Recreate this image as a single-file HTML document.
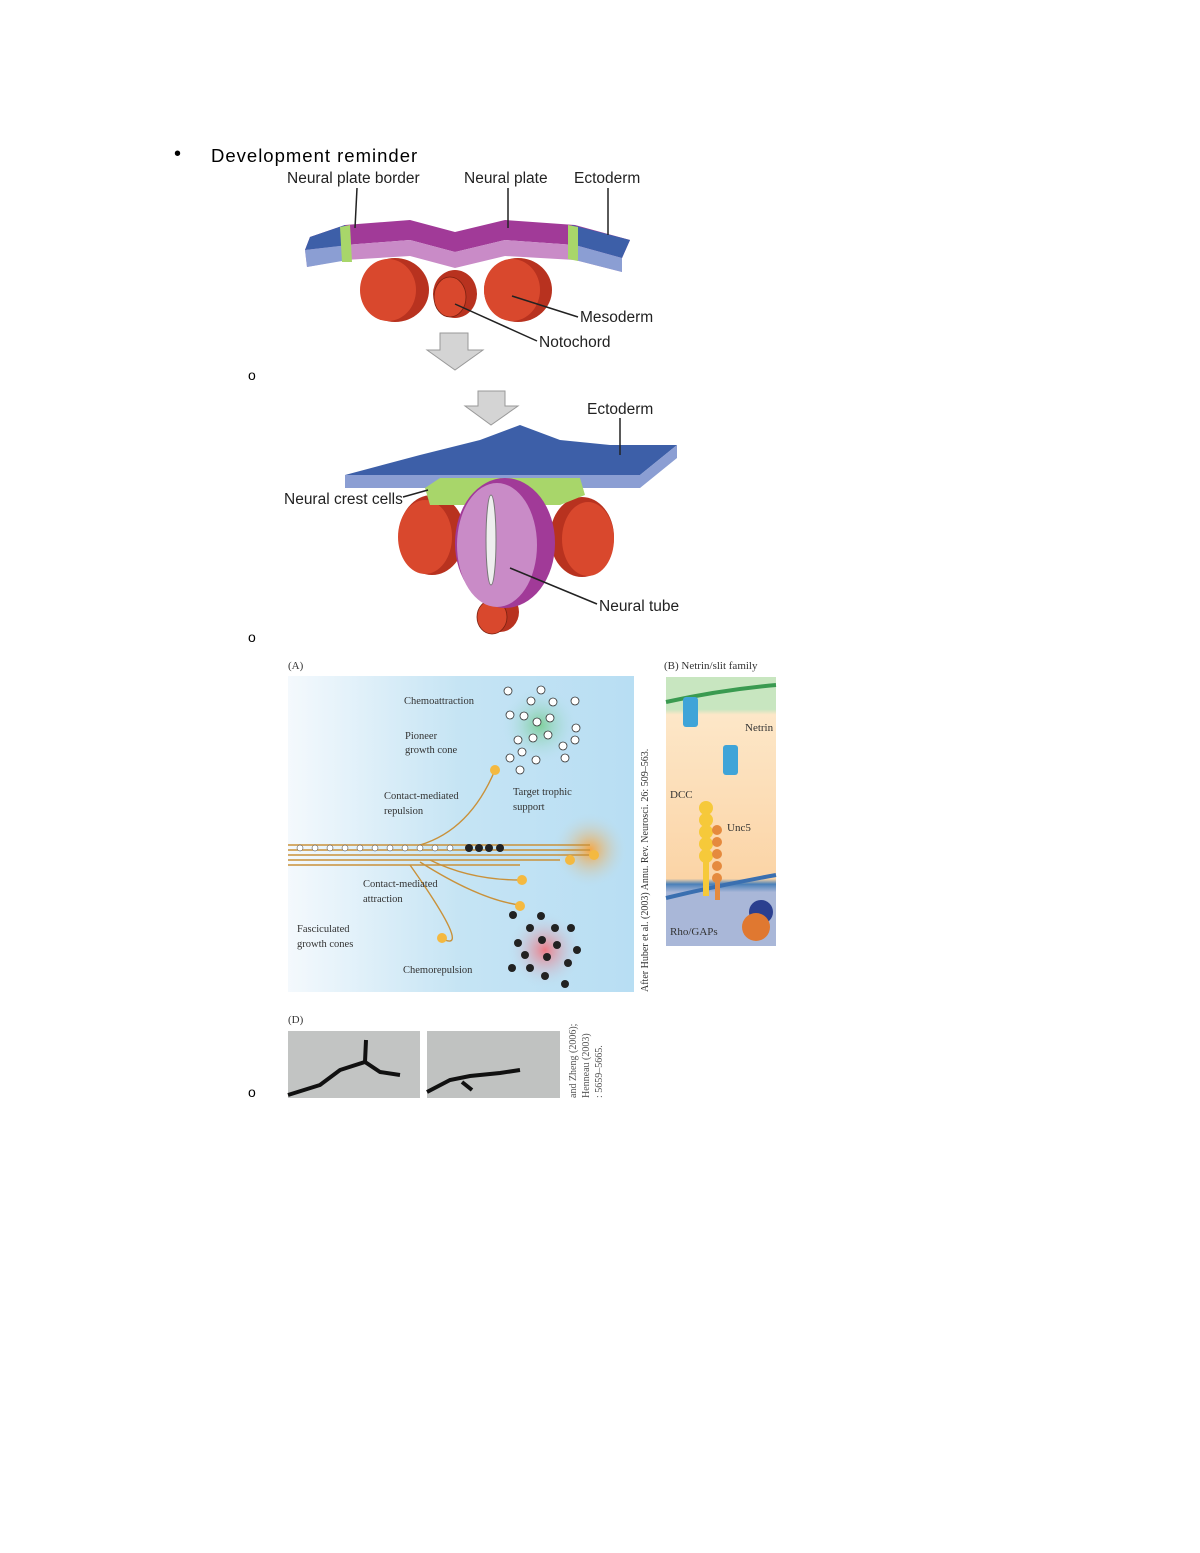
<!DOCTYPE html>
<html><head><meta charset="utf-8"><style>
body{margin:0;background:#fff;width:1200px;height:1553px;position:relative;overflow:hidden;font-family:"Liberation Sans",sans-serif}
.t{position:absolute;white-space:nowrap}
</style></head><body>
<div class="t" style="left:174px;top:143px;font-size:20px">•</div>
<div class="t" style="left:211px;top:145px;font-size:18.5px;letter-spacing:1px">Development reminder</div>
<div class="t" style="left:248px;top:367px;font-size:14px">o</div>
<div class="t" style="left:248px;top:629px;font-size:14px">o</div>
<div class="t" style="left:248px;top:1084px;font-size:14px">o</div>

<svg width="1200" height="1553" style="position:absolute;left:0;top:0" font-family="Liberation Sans, sans-serif">
<g font-size="15.5" fill="#222">
<text x="287" y="183">Neural plate border</text>
<text x="464" y="183">Neural plate</text>
<text x="574" y="183">Ectoderm</text>
<text x="580" y="322">Mesoderm</text>
<text x="539" y="347">Notochord</text>
</g>
<ellipse cx="395" cy="290" rx="34" ry="32" fill="#b8321f"/>
<ellipse cx="388" cy="290" rx="28" ry="31" fill="#d9482d"/>
<ellipse cx="518" cy="290" rx="34" ry="32" fill="#b8321f"/>
<ellipse cx="512" cy="290" rx="28" ry="31" fill="#d9482d"/>
<ellipse cx="455" cy="294" rx="22" ry="24" fill="#b8321f"/>
<ellipse cx="450" cy="297" rx="16" ry="20" fill="#d9482d" stroke="#7a2010" stroke-width="0.8"/>
<path d="M305 250 L310 237 L345 225 L410 220 L455 232 L505 220 L575 225 L630 240 L622 258 L575 245 L505 240 L455 252 L410 240 L345 245 Z" fill="#a13a98"/>
<path d="M305 250 L345 245 L410 240 L455 252 L505 240 L575 245 L622 258 L622 272 L575 260 L505 256 L455 268 L410 256 L345 260 L307 267 Z" fill="#c98bc7"/>
<path d="M305 250 L310 237 L345 225 L350 245 Z" fill="#3d5fa8"/><path d="M307 267 L305 250 L348 245 L348 260 Z" fill="#8b9ed3"/>
<path d="M572 225 L630 240 L622 258 L575 245 Z" fill="#3d5fa8"/><path d="M575 245 L622 258 L622 272 L575 260 Z" fill="#8b9ed3"/>
<path d="M340 227 L350 225 L352 262 L342 262 Z" fill="#a8d66a"/>
<path d="M568 225 L578 227 L578 261 L568 259 Z" fill="#a8d66a"/>
<g stroke="#222" stroke-width="1.5">
<line x1="357" y1="188" x2="355" y2="228"/><line x1="508" y1="188" x2="508" y2="228"/><line x1="608" y1="188" x2="608" y2="235"/>
<line x1="512" y1="296" x2="578" y2="317"/><line x1="455" y1="304" x2="537" y2="341"/>
</g>
<path d="M440 333 H468 V350 H483 L455 370 L427 350 H440 Z" fill="#d4d4d4" stroke="#999"/>
<path d="M478 391 H505 V406 H518 L491 425 L465 406 H478 Z" fill="#d4d4d4" stroke="#999"/>
<g font-size="15.5" fill="#222">
<text x="587" y="414">Ectoderm</text>
<text x="284" y="504">Neural crest cells</text>
<text x="599" y="611">Neural tube</text>
</g>
<ellipse cx="432" cy="535" rx="33" ry="40" fill="#b8321f"/><ellipse cx="425" cy="537" rx="27" ry="37" fill="#d9482d"/>
<ellipse cx="582" cy="537" rx="32" ry="40" fill="#b8321f"/><ellipse cx="588" cy="539" rx="26" ry="37" fill="#d9482d"/>
<ellipse cx="500" cy="612" rx="19" ry="20" fill="#b8321f"/><ellipse cx="492" cy="617" rx="15" ry="17" fill="#d9482d" stroke="#7a2010" stroke-width="0.8"/>
<path d="M345 475 L420 455 L480 440 L520 425 L560 440 L610 445 L677 445 L640 475 Z" fill="#3d5fa8"/>
<path d="M345 475 L640 475 L677 445 L677 458 L640 488 L345 488 Z" fill="#8b9ed3"/>
<path d="M425 488 L440 478 L580 478 L585 495 L560 505 L430 505 Z" fill="#a8d66a"/>
<ellipse cx="505" cy="543" rx="50" ry="65" fill="#a13a98"/>
<ellipse cx="497" cy="545" rx="40" ry="62" fill="#c98bc7"/>
<ellipse cx="491" cy="540" rx="5" ry="45" fill="#eee" stroke="#777"/>
<g stroke="#222" stroke-width="1.5">
<line x1="620" y1="418" x2="620" y2="455"/><line x1="403" y1="497" x2="428" y2="490"/><line x1="510" y1="568" x2="597" y2="604"/>
</g>
<defs><linearGradient id="ga" x1="0" x2="1"><stop offset="0" stop-color="#f4f9fd"/><stop offset="0.5" stop-color="#c5e4f4"/><stop offset="1" stop-color="#b8def3"/></linearGradient>
<radialGradient id="gg"><stop offset="0" stop-color="#7fcf9a"/><stop offset="1" stop-color="#b8def3" stop-opacity="0"/></radialGradient>
<radialGradient id="go"><stop offset="0" stop-color="#f7a640"/><stop offset="1" stop-color="#b8def3" stop-opacity="0"/></radialGradient>
<radialGradient id="gr"><stop offset="0" stop-color="#ee7b86"/><stop offset="1" stop-color="#b8def3" stop-opacity="0"/></radialGradient>
<linearGradient id="gb" x1="0" y1="0" x2="0" y2="1"><stop offset="0" stop-color="#c8e6c0"/><stop offset="0.12" stop-color="#c8e6c0"/><stop offset="0.14" stop-color="#fde7c8"/><stop offset="0.75" stop-color="#fbd4a6"/><stop offset="0.77" stop-color="#4a80b8"/><stop offset="0.8" stop-color="#a9b7d8"/><stop offset="1" stop-color="#a9b7d8"/></linearGradient></defs>
<text x="288" y="669" font-size="11" font-family="Liberation Serif,serif" fill="#333">(A)</text>
<rect x="288" y="676" width="346" height="316" fill="url(#ga)"/>
<circle cx="540" cy="725" r="38" fill="url(#gg)"/>
<circle cx="590" cy="850" r="38" fill="url(#go)"/>
<circle cx="545" cy="950" r="38" fill="url(#gr)"/>
<g stroke="#c9913a" stroke-width="1.4" fill="none">
<path d="M288 845 H590"/><path d="M288 850 H590"/><path d="M288 855 H590"/><path d="M288 860 H560"/><path d="M288 865 H520"/>
<path d="M420 845 Q470 830 495 770"/><path d="M430 860 Q470 880 520 880"/><path d="M420 862 Q480 900 520 905"/><path d="M410 865 Q470 950 445 940"/>
</g>
<g font-family="Liberation Serif,serif" font-size="10.5" fill="#333">
<text x="404" y="704">Chemoattraction</text><text x="405" y="739">Pioneer</text><text x="405" y="753">growth cone</text>
<text x="384" y="799">Contact-mediated</text><text x="384" y="814">repulsion</text>
<text x="513" y="795">Target trophic</text><text x="513" y="810">support</text>
<text x="363" y="887">Contact-mediated</text><text x="363" y="902">attraction</text>
<text x="297" y="932">Fasciculated</text><text x="297" y="947">growth cones</text>
<text x="403" y="973">Chemorepulsion</text>
</g>
<g fill="#fff" stroke="#333" stroke-width="0.8">
<circle cx="508" cy="691" r="4"/><circle cx="541" cy="690" r="4"/><circle cx="531" cy="701" r="4"/><circle cx="553" cy="702" r="4"/><circle cx="575" cy="701" r="4"/>
<circle cx="510" cy="715" r="4"/><circle cx="524" cy="716" r="4"/><circle cx="537" cy="722" r="4"/><circle cx="550" cy="718" r="4"/><circle cx="576" cy="728" r="4"/>
<circle cx="518" cy="740" r="4"/><circle cx="533" cy="738" r="4"/><circle cx="548" cy="735" r="4"/><circle cx="563" cy="746" r="4"/><circle cx="575" cy="740" r="4"/>
<circle cx="510" cy="758" r="4"/><circle cx="522" cy="752" r="4"/><circle cx="536" cy="760" r="4"/><circle cx="565" cy="758" r="4"/><circle cx="520" cy="770" r="4"/>
</g>
<g fill="#222">
<circle cx="469" cy="848" r="4"/><circle cx="479" cy="848" r="4"/><circle cx="489" cy="848" r="4"/><circle cx="500" cy="848" r="4"/>
<circle cx="513" cy="915" r="4"/><circle cx="541" cy="916" r="4"/><circle cx="530" cy="928" r="4"/><circle cx="555" cy="928" r="4"/><circle cx="571" cy="928" r="4"/>
<circle cx="518" cy="943" r="4"/><circle cx="542" cy="940" r="4"/><circle cx="557" cy="945" r="4"/><circle cx="577" cy="950" r="4"/>
<circle cx="525" cy="955" r="4"/><circle cx="547" cy="957" r="4"/><circle cx="568" cy="963" r="4"/><circle cx="512" cy="968" r="4"/><circle cx="530" cy="968" r="4"/><circle cx="545" cy="976" r="4"/><circle cx="565" cy="984" r="4"/>
</g>
<g fill="#f4b940"><circle cx="495" cy="770" r="5"/><circle cx="522" cy="880" r="5"/><circle cx="520" cy="906" r="5"/><circle cx="442" cy="938" r="5"/><circle cx="594" cy="855" r="5"/><circle cx="570" cy="860" r="5"/></g>
<g stroke="#333" stroke-width="0.5">
<circle cx="300" cy="848" r="3" fill="#fff"/><circle cx="315" cy="848" r="3" fill="#fff"/><circle cx="330" cy="848" r="3" fill="#fff"/><circle cx="345" cy="848" r="3" fill="#fff"/><circle cx="360" cy="848" r="3" fill="#fff"/><circle cx="375" cy="848" r="3" fill="#fff"/><circle cx="390" cy="848" r="3" fill="#fff"/><circle cx="405" cy="848" r="3" fill="#fff"/><circle cx="420" cy="848" r="3" fill="#fff"/><circle cx="435" cy="848" r="3" fill="#fff"/><circle cx="450" cy="848" r="3" fill="#fff"/>
</g>
<text transform="translate(648,992) rotate(-90)" font-size="10" font-family="Liberation Serif,serif" fill="#333">After Huber et al. (2003) Annu. Rev. Neurosci. 26: 509–563.</text>
<text x="664" y="669" font-size="11" font-family="Liberation Serif,serif" fill="#333">(B) Netrin/slit family</text>
<rect x="666" y="677" width="110" height="269" fill="url(#gb)"/>
<path d="M666 702 Q720 690 776 685" stroke="#3a9a50" stroke-width="4" fill="none"/>
<path d="M666 898 Q720 885 776 875" stroke="#3a6fb0" stroke-width="4" fill="none"/>
<rect x="683" y="697" width="15" height="30" rx="3" fill="#3fa4d8"/>
<rect x="723" y="745" width="15" height="30" rx="3" fill="#3fa4d8"/>
<g fill="#f6c93a"><circle cx="706" cy="808" r="7"/><circle cx="706" cy="820" r="7"/><circle cx="706" cy="832" r="7"/><circle cx="706" cy="844" r="7"/><circle cx="706" cy="856" r="7"/></g>
<rect x="703" y="856" width="6" height="40" fill="#f6c93a"/>
<g fill="#e58a3e"><circle cx="717" cy="830" r="5"/><circle cx="717" cy="842" r="5"/><circle cx="717" cy="854" r="5"/><circle cx="717" cy="866" r="5"/><circle cx="717" cy="878" r="5"/></g>
<rect x="715" y="880" width="5" height="20" fill="#e58a3e"/>
<circle cx="761" cy="912" r="12" fill="#2b3f8f"/><circle cx="756" cy="927" r="14" fill="#e07830"/>
<g font-family="Liberation Serif,serif" font-size="11" fill="#333"><text x="745" y="731">Netrin</text><text x="670" y="798">DCC</text><text x="727" y="831">Unc5</text><text x="670" y="935">Rho/GAPs</text></g>
<text x="288" y="1023" font-size="11" font-family="Liberation Serif,serif" fill="#333">(D)</text>
<rect x="288" y="1031" width="132" height="67" fill="#c2c4c3"/>
<rect x="427" y="1031" width="133" height="67" fill="#c0c2c1"/>
<path d="M288 1095 L320 1085 L340 1070 L365 1062 L380 1072 L400 1075 M365 1062 L366 1040" stroke="#111" stroke-width="4" fill="none"/>
<path d="M427 1092 L450 1080 L470 1076 L500 1073 L520 1070 M462 1082 L472 1090" stroke="#111" stroke-width="4" fill="none"/>
<g font-family="Liberation Serif,serif" font-size="10" fill="#555">
<text transform="translate(576,1098) rotate(-90)">and Zheng (2006);</text>
<text transform="translate(589,1098) rotate(-90)">Henneau (2003)</text>
<text transform="translate(602,1098) rotate(-90)">: 5659–5665.</text>
</g>
</svg>
</body></html>
